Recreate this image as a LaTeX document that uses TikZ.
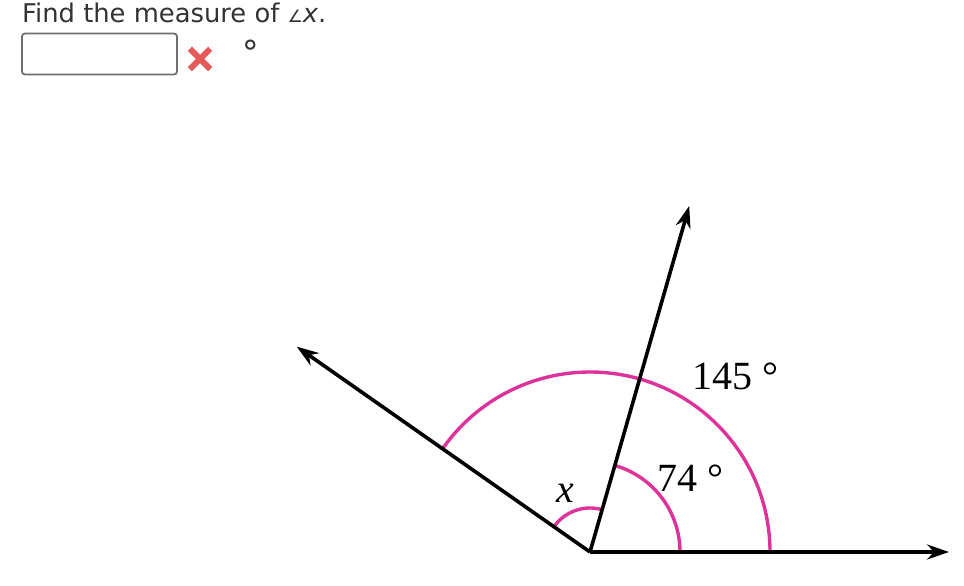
\documentclass[tikz,border=0pt]{standalone}
\usepackage{fontspec}
\setmainfont{Liberation Serif}
\newfontfamily\uifont{DejaVu Sans}
\usetikzlibrary{arrows.meta,calc}
\definecolor{arcpink}{RGB}{222,50,155}
\definecolor{uigray}{RGB}{51,51,51}
\definecolor{boxgray}{RGB}{110,110,110}
\definecolor{xred}{RGB}{228,90,90}
\tikzset{
  ray/.style={line width=3.6pt, -{Stealth[length=22pt,width=15pt]}},
  anglearc/.style={draw=arcpink, line width=3.4pt},
  lab/.style={font=\fontsize{40}{44}\selectfont, inner sep=0pt, anchor=base west},
  ui/.style={font=\uifont\fontsize{25.8}{30}\selectfont, text=uigray, inner sep=0pt}
}
\begin{document}
\begin{tikzpicture}[x=1pt,y=1pt]
\useasboundingbox (0,0) rectangle (964,586);
% header
\node[ui, anchor=base west] (title) at (22,563) {Find the measure of {\fontsize{17}{20}\selectfont ∠}\textit{x}.};
\node[draw=boxgray, line width=1.8pt, rounded corners=3pt, minimum width=155pt, minimum height=41pt, inner sep=0pt] (answer) at (99.5,532) {};
\node[minimum size=20pt, inner sep=0pt] (xm) at (200,527) {};
\draw[xred, line width=6pt] (xm.north west) -- (xm.south east) (xm.north east) -- (xm.south west);
\node[ui, font=\uifont\fontsize{33}{36}\selectfont] (deg) at (251,534) {°};
% geometry
\coordinate (O) at (590,34);
\coordinate (A) at (949,34);
\coordinate (B) at ($(O)+(74:360)$);
\coordinate (C) at ($(O)+(145:358)$);
\draw[anglearc] ([shift={(0:180)}]O) arc[start angle=0,end angle=145,radius=180];
\draw[anglearc] ([shift={(0:90)}]O) arc[start angle=0,end angle=74,radius=90];
\draw[anglearc] ([shift={(74:44)}]O) arc[start angle=74,end angle=145,radius=44];
\draw[ray] (O) -- (A);
\draw[ray] (O) -- (B);
\draw[ray] (O) -- (C);
\node[lab] (lx) at (556,83) {\textit{x}};
\node[lab] (l74) at (657,94) {74 °};
\node[lab] (l145) at (692,196) {145 °};
\end{tikzpicture}
\end{document}
